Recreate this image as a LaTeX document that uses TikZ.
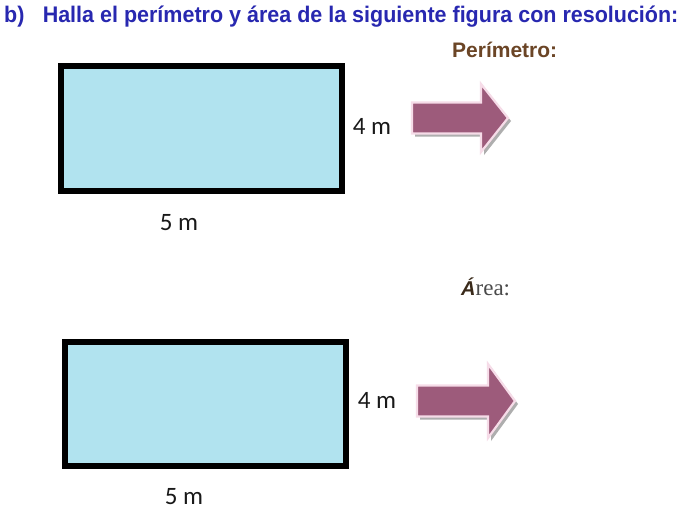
\documentclass[tikz,border=0pt]{standalone}
\usepackage{fontspec}
\newfontfamily\arialf{Liberation Sans}
\newfontfamily\calf{Carlito}
\newfontfamily\timesf{Liberation Serif}
\definecolor{titleblue}{HTML}{2828B0}
\definecolor{perbrown}{HTML}{6B4526}
\definecolor{rectfill}{HTML}{B1E3EF}
\definecolor{mauve}{HTML}{9D5B7B}
\definecolor{pinkedge}{HTML}{F6DCE8}
\definecolor{shadowgray}{HTML}{AEAEAE}
\definecolor{areagray}{HTML}{4A4A4A}
\definecolor{adark}{HTML}{3A2A1A}
\tikzset{
  figrect/.style={draw=black, line width=6pt, fill=rectfill},
  dimlabel/.style={font=\calf\fontsize{25}{28}\selectfont, text=black!90, inner sep=0pt},
  arrowshadow/.style={fill=shadowgray, draw=none},
  arrowbody/.style={fill=mauve, draw=pinkedge, line width=2.2pt, line join=miter},
  pics/fatarrow/.style n args={4}{code={
    \fill[arrowshadow] (3,{-#2+3}) -- (#1+3,{-#2+3}) -- (#1+3,{-#3+3}) -- (#4+3,3) -- (#1+3,{#3+3}) -- (#1+3,{#2+3}) -- (3,{#2+3}) -- cycle;
    \path[arrowbody] (0,-#2) -- (#1,-#2) -- (#1,-#3) -- (#4,0) -- (#1,#3) -- (#1,#2) -- (0,#2) -- cycle;
  }}
}
\begin{document}
\begin{tikzpicture}[x=1pt,y=-1pt]
\useasboundingbox[fill=white] (0,0) rectangle (687,511);

% title
\node[anchor=base west, inner sep=0pt, yscale=1.05, text=titleblue, font=\arialf\bfseries\fontsize{21.5}{25}\selectfont] (title) at (4,23)
  {b)\hspace{0.85em}Halla el perímetro y área de la siguiente figura con resolución:};
\node[anchor=base west, inner sep=0pt, text=perbrown, font=\arialf\bfseries\fontsize{21}{24}\selectfont] (perimetro) at (452,57) {Perímetro:};

% top figure
\draw[figrect] (61,66) rectangle (342,191);
\node[dimlabel] (h1) at (372,126) {4 m};
\node[dimlabel] (w1) at (179,223) {5 m};
\pic (arrow1) at (412,118) {fatarrow={69}{15.5}{34}{96}};

% Area label
\node[anchor=base west, inner sep=0pt] (area) at (461,295)
  {{\arialf\bfseries\itshape\fontsize{20}{24}\selectfont\color{adark}Á}{\timesf\fontsize{23}{26}\selectfont\color{areagray}rea:}};

% bottom figure
\draw[figrect] (65,342) rectangle (346,466);
\node[dimlabel] (h2) at (377,400) {4 m};
\node[dimlabel] (w2) at (184,497) {5 m};
\pic (arrow2) at (417,401) {fatarrow={71}{15.5}{37}{98}};
\end{tikzpicture}
\end{document}
